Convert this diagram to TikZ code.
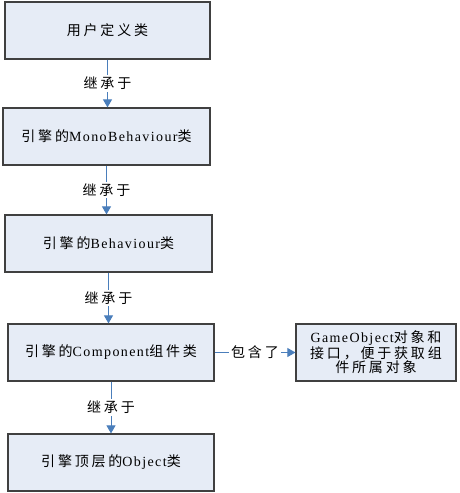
\documentclass[tikz,border=0pt]{standalone}
\usepackage{fontspec}
\setmainfont{Liberation Serif}[LetterSpace=10]
\newfontfamily\cjk{Noto Sans CJK SC}[LetterSpace=20]
\usetikzlibrary{arrows.meta}
\definecolor{boxfill}{RGB}{230,236,246}
\definecolor{boxline}{RGB}{64,64,64}
\definecolor{arrowblue}{RGB}{74,126,187}
\newcommand{\zh}[1]{{\cjk #1}}
\begin{document}
\begin{tikzpicture}[x=1pt,y=-1pt,font=\fontsize{14}{14}\selectfont,
class node/.style={draw=boxline,line width=1.2pt,fill=boxfill,inner sep=0pt,minimum height=57pt,align=center},
link/.style={draw=arrowblue,line width=1pt,-{Triangle[width=9pt,length=8pt]}},
link label/.style={fill=white,inner sep=2pt}]
\useasboundingbox (0,0) rectangle (460,493);
\node[class node,minimum width=205pt] (user) at (107.5,30.5) {\zh{用户定义类}};
\node[class node,minimum width=207pt] (mono) at (106.5,136.5) {\zh{引擎的}MonoBehaviour\zh{类}};
\node[class node,minimum width=207pt] (behav) at (108.5,243.5) {\zh{引擎的}Behaviour\zh{类}};
\node[class node,minimum width=206pt] (comp) at (111,352.5) {\zh{引擎的}Component\zh{组件类}};
\node[class node,minimum width=206pt] (obj) at (111,462.5) {\zh{引擎顶层的}Object\zh{类}};
\node[class node,minimum width=160pt] (go) at (376,352.5) {GameObject\zh{对象和}\\\zh{接口，便于获取组}\\\zh{件所属对象}};
%
\draw[link] (user.south) -- node[link label]{\zh{继承于}} (user.south |- mono.north);
\draw[link] (mono.south) -- node[link label]{\zh{继承于}} (mono.south |- behav.north);
\draw[link] (behav.south) -- node[link label]{\zh{继承于}} (behav.south |- comp.north);
\draw[link] (comp.south) -- node[link label]{\zh{继承于}} (comp.south |- obj.north);
\draw[link] (comp.east) -- node[link label]{\zh{包含了}} (go.west);
\end{tikzpicture}
\end{document}
